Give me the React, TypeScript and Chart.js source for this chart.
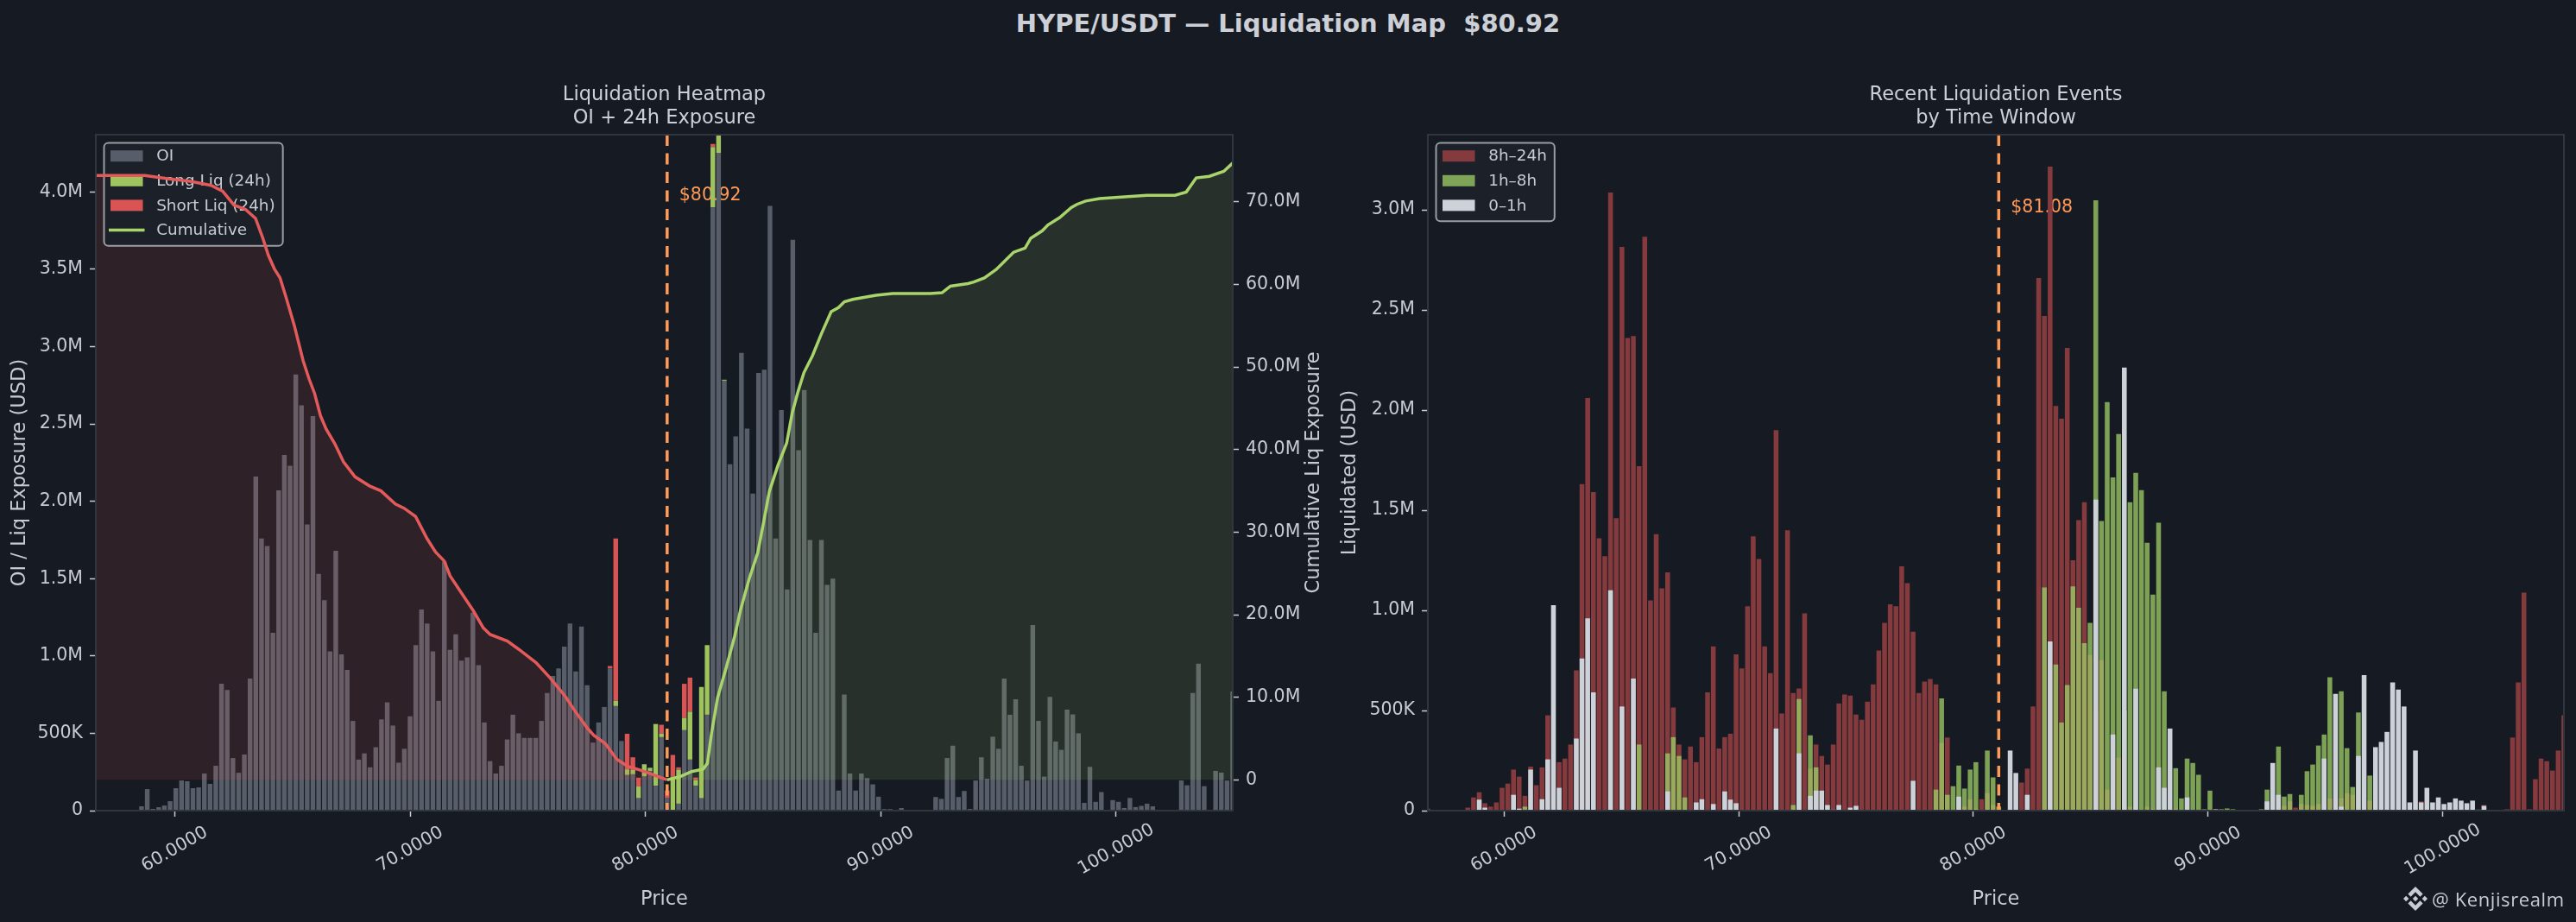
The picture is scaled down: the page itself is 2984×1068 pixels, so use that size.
import { useEffect, useRef } from "react";
import { Chart, registerables } from "chart.js";

Chart.register(...registerables);

const FONT = '"DejaVu Sans", "Liberation Sans", sans-serif';
const BG = "#161a22";
const TEXT = "#c8ccd2";
const TITLE = "#ccd0d6";
const SPINE = "#30353e";
const PRICE = "#ff9a57";

// ---------- Liquidation Heatmap (left panel) ----------
const heatPrice = 80.92;
const heatBinLow = 56.644;
const heatBinStep = 0.24276;
const heatXMax = 104.953;

// open interest per price bin, USD millions (200 bins)
const oiM = [
  0, 0, 0, 0, 0, 0, 0, 0, 0.028, 0.139,
  0.011, 0.022, 0.033, 0.061, 0.145, 0.195, 0.19, 0.145, 0.15, 0.24,
  0.173, 0.29, 0.82, 0.78, 0.34, 0.245, 0.363, 0.854, 2.16, 1.76,
  1.71, 1.15, 2.07, 2.3, 2.23, 2.82, 2.62, 1.85, 2.55, 1.53,
  1.36, 1.03, 1.68, 1.01, 0.91, 0.58, 0.33, 0.37, 0.28, 0.41,
  0.59, 0.7, 0.55, 0.31, 0.4, 0.61, 1.07, 1.3, 1.21, 1.03,
  0.71, 1.61, 1.04, 1.14, 0.97, 0.99, 1.28, 0.94, 0.57, 0.32,
  0.24, 0.29, 0.46, 0.62, 0.5, 0.47, 0.47, 0.47, 0.58, 0.76,
  0.87, 0.92, 1.06, 1.21, 0.9, 1.19, 0.81, 0.44, 0.57, 0.67,
  0.92, 0.676, 0.45, 0.23, 0.235, 0.08, 0.22, 0.257, 0.16, 0.475,
  0.08, 0, 0.045, 0.52, 0.33, 0.16, 0.08, 0.62, 3.9, 4.25,
  2.78, 2.24, 2.42, 2.96, 2.47, 2.05, 2.83, 2.85, 3.91, 1.76,
  2.59, 1.43, 3.69, 2.33, 2.72, 1.75, 1.15, 1.75, 1.46, 1.5,
  0.13, 0.75, 0.24, 0.13, 0.24, 0.21, 0.17, 0.09, 0.01, 0.01,
  0.005, 0.017, 0.005, 0, 0, 0, 0, 0.088, 0.076, 0.34,
  0.42, 0.088, 0.127, 0.011, 0.195, 0.345, 0.206, 0.478, 0.4, 0.854,
  0.62, 0.72, 0.29, 0.195, 1.2, 0.58, 0.22, 0.735, 0.447, 0.393,
  0.653, 0.622, 0.5, 0.05, 0.283, 0.057, 0.12, 0, 0.068, 0.057,
  0.017, 0.082, 0.023, 0.031, 0.045, 0.028, 0, 0, 0, 0,
  0.195, 0.164, 0.76, 0.95, 0.158, 0, 0.257, 0.246, 0.195, 0.77,
];

// 24h liquidations, only the bins that have any (bin index, USD millions)
const longLiqBins = [91, 93, 94, 95, 96, 97, 98, 99, 101, 102, 103, 104, 105, 106, 107, 108, 109, 110];
const longLiqM = [0.034, 0.037, 0.03, 0.076, 0.08, 0.02, 0.4, 0.023, 0.22, 0.22, 0.08, 0.31, 0.037, 0.72, 0.45, 0.39, 0.25, 0.006];
const shortLiqBins = [90, 91, 93, 94, 95, 99, 100, 101, 102, 103, 104, 105, 108];
const shortLiqM = [0.015, 1.05, 0.23, 0.08, 0.057, 0.057, 0.05, 0.14, 0.015, 0.22, 0.22, 0.017, 0.02];

// cumulative exposure, USD millions
const shortCumPrice = [
  56.64, 58.72, 59.7, 60.66, 61.54, 62.03, 62.52, 63.0, 63.43, 63.74,
  63.98, 64.23, 64.47, 64.72, 65.08, 65.45, 65.7, 65.94, 66.19, 66.43,
  66.8, 67.17, 67.66, 68.27, 68.76, 69.37, 69.74, 70.23, 70.72, 71.08,
  71.45, 71.7, 72.19, 72.68, 73.11, 73.4, 74.13, 74.62, 75.35, 75.96,
  76.57, 77.06, 77.55, 77.8, 78.29, 78.78, 79.27, 79.76, 80.25, 80.92,
];
const shortCumM = [
  73.2, 73.2, 72.8, 72.5, 72.0, 71.3, 69.6, 69.1, 68.0, 65.6,
  63.5, 61.9, 60.8, 58.5, 55.0, 50.8, 48.6, 46.8, 44.1, 42.5,
  40.7, 38.5, 36.7, 35.6, 35.0, 33.4, 32.9, 31.9, 29.2, 27.6,
  26.5, 24.7, 22.6, 20.5, 18.4, 17.6, 16.8, 15.8, 14.2, 12.3,
  10.2, 8.1, 6.2, 5.4, 4.4, 2.5, 1.6, 1.2, 0.7, 0,
];
const longCumPrice = [
  80.92, 81.47, 81.96, 82.45, 82.63, 82.81, 83.06, 83.43, 83.79, 84.04,
  84.4, 84.77, 85.02, 85.26, 85.63, 86.0, 86.24, 86.49, 86.73, 87.1,
  87.47, 87.89, 88.2, 88.45, 88.81, 89.43, 89.8, 90.5, 92.1, 92.6,
  92.96, 93.7, 93.95, 94.4, 94.9, 95.15, 95.64, 96.13, 96.37, 96.86,
  97.1, 97.6, 98.09, 98.33, 98.7, 99.3, 101.3, 102.5, 102.98, 103.4,
  103.96, 104.57, 104.95,
];
const longCumM = [
  0, 0.4, 1.0, 1.3, 2.0, 5.7, 9.9, 13.6, 17.4, 20.6,
  24.3, 27.5, 31.2, 34.9, 38.1, 40.8, 44.5, 47.1, 49.3, 51.4,
  54.0, 56.7, 57.2, 57.9, 58.2, 58.5, 58.7, 58.9, 58.9, 59.0,
  59.8, 60.1, 60.3, 60.8, 61.8, 62.5, 63.9, 64.4, 65.6, 66.5,
  67.2, 68.1, 69.3, 69.7, 70.1, 70.4, 70.8, 70.8, 71.2, 72.9,
  73.1, 73.7, 74.7,
];

const heatYTicks = [0, 0.5e6, 1e6, 1.5e6, 2e6, 2.5e6, 3e6, 3.5e6, 4e6];
const heatY1Ticks = [0, 10e6, 20e6, 30e6, 40e6, 50e6, 60e6, 70e6];
const priceTicks = [60, 70, 80, 90, 100];

// ---------- Recent Liquidation Events (right panel) ----------
const eventPrice = 81.08;
const eventBinLow = 56.756;
const eventBinStep = 0.24324;
const eventXMax = 105.161;

// liquidated per price bin by time window, USD millions (200 bins)
const liq8to24M = [
  0.01, 0, 0, 0, 0, 0, 0, 0.015, 0.066, 0.092,
  0.037, 0.02, 0.041, 0.114, 0.135, 0.205, 0.17, 0.074, 0.22, 0.127,
  0.216, 0.476, 0, 0.242, 0.26, 0.33, 0.7, 1.63, 2.06, 1.59,
  1.36, 1.27, 3.086, 1.46, 2.815, 2.36, 2.37, 1.72, 2.865, 1.05,
  1.38, 1.11, 1.19, 0.515, 0.33, 0.256, 0.32, 0.242, 0.367, 0.59,
  0.82, 0.31, 0.367, 0.384, 0.78, 0.71, 1.02, 1.37, 1.256, 0.82,
  0.686, 1.9, 0.485, 1.4, 0.587, 0.61, 0.985, 0.21, 0.33, 0.273,
  0.23, 0.33, 0.535, 0.58, 0.574, 0.48, 0.454, 0.544, 0.63, 0.8,
  0.937, 1.03, 1.02, 1.22, 1.136, 0.893, 0.587, 0.644, 0.657, 0.63,
  0.338, 0.365, 0, 0, 0.02, 0.057, 0.01, 0.057, 0.087, 0.028,
  0.02, 0, 0, 0, 0.14, 0.21, 0.52, 2.66, 2.47, 3.215,
  2.02, 1.957, 2.31, 1.25, 1.45, 1.54, 0.777, 0.5, 0.751, 0.105,
  0, 0.264, 0, 0.02, 0, 0, 0.02, 0.01, 0, 0,
  0, 0.01, 0, 0, 0, 0, 0, 0, 0, 0,
  0, 0, 0, 0, 0, 0, 0, 0, 0, 0,
  0.024, 0.046, 0.015, 0.033, 0.028, 0.024, 0.033, 0, 0.061, 0,
  0.061, 0.087, 0.079, 0, 0, 0.05, 0, 0, 0, 0,
  0, 0, 0, 0, 0.046, 0, 0, 0, 0, 0,
  0, 0, 0, 0, 0, 0.028, 0, 0, 0, 0.007,
  0.365, 0.64, 1.088, 0.007, 0.157, 0.26, 0.247, 0.2, 0.3, 0.476,
];
const liq1to8M = [
  0, 0, 0, 0, 0, 0, 0, 0, 0, 0,
  0, 0, 0, 0, 0, 0, 0, 0.02, 0, 0,
  0, 0, 0, 0, 0, 0, 0, 0, 0, 0,
  0, 0, 0, 0, 0, 0, 0, 0.33, 0, 0,
  0, 0, 0.286, 0.367, 0.273, 0.066, 0, 0, 0, 0,
  0, 0, 0, 0, 0, 0, 0, 0, 0, 0,
  0, 0, 0, 0, 0.028, 0.557, 0, 0.376, 0.216, 0,
  0, 0, 0, 0, 0, 0, 0, 0, 0, 0,
  0, 0, 0, 0, 0, 0, 0, 0, 0, 0.105,
  0.56, 0.079, 0.122, 0.225, 0.11, 0.205, 0.242, 0, 0.3, 0.166,
  0.02, 0, 0, 0, 0, 0, 0, 0, 1.114, 0,
  0.73, 0.44, 0.627, 1.12, 1.013, 0.836, 0.937, 3.047, 1.446, 2.04,
  1.664, 1.88, 0.5, 1.54, 1.686, 1.6, 1.337, 1.079, 1.437, 0.596,
  0, 0.212, 0.061, 0.26, 0.238, 0.179, 0.007, 0.1, 0, 0.007,
  0.011, 0.007, 0.003, 0, 0, 0, 0.007, 0.105, 0, 0.32,
  0.07, 0.083, 0, 0.079, 0.197, 0.23, 0.325, 0.38, 0.666, 0,
  0.596, 0.312, 0.118, 0.49, 0, 0.175, 0, 0, 0, 0,
  0, 0, 0, 0, 0, 0, 0, 0, 0, 0,
  0, 0, 0, 0, 0, 0, 0, 0, 0, 0,
  0, 0, 0, 0, 0, 0, 0, 0, 0, 0,
];
const liq0to1M = [
  0, 0, 0, 0, 0, 0, 0, 0, 0, 0.055,
  0.015, 0, 0, 0, 0, 0.079, 0.01, 0, 0.205, 0,
  0.057, 0.256, 1.026, 0.114, 0, 0, 0.36, 0.76, 0.96, 0.59,
  0, 0, 1.1, 0, 0.52, 0, 0.66, 0, 0, 0,
  0, 0, 0.096, 0, 0, 0, 0, 0.041, 0.057, 0,
  0.033, 0, 0.096, 0.055, 0.037, 0, 0, 0, 0, 0,
  0, 0.41, 0, 0, 0, 0.286, 0, 0.074, 0.1, 0.1,
  0.028, 0.005, 0.028, 0, 0.015, 0.024, 0, 0, 0, 0,
  0, 0, 0, 0, 0, 0.149, 0, 0, 0, 0,
  0, 0, 0, 0.07, 0, 0, 0, 0, 0, 0,
  0, 0, 0.3, 0.188, 0, 0.079, 0, 0, 0, 0.845,
  0, 0, 0, 0, 0, 0, 0, 1.553, 0, 0,
  0.38, 0, 2.212, 0, 0.609, 0, 0, 0, 0.216, 0.114,
  0.41, 0, 0, 0.066, 0, 0, 0, 0, 0.007, 0,
  0, 0, 0, 0, 0, 0, 0, 0.046, 0.238, 0.079,
  0, 0, 0, 0, 0, 0, 0, 0.26, 0, 0.583,
  0.02, 0, 0, 0.273, 0.677, 0, 0.317, 0.343, 0.393, 0.64,
  0.605, 0.52, 0.041, 0.3, 0.041, 0.114, 0.041, 0.066, 0.033, 0.041,
  0.061, 0.05, 0.037, 0.05, 0.005, 0.024, 0, 0, 0, 0,
  0, 0, 0, 0, 0, 0, 0, 0, 0, 0,
];
const eventYTicks = [0, 0.5e6, 1e6, 1.5e6, 2e6, 2.5e6, 3e6];

// ---------- colours ----------
const OI_COLOR = "#585e69";
const LONG_COLOR = "#9fc35e";
const SHORT_COLOR = "#d95555";
const LONG_LINE = "#a8d46b";
const SHORT_LINE = "#e45a5a";
const W24_COLOR = "#853a3e";
const W8_COLOR = "rgba(160,208,104,0.75)";
const W1_COLOR = "#cdd2d9";

const SHORT_CUM_LABEL = "Short cumulative";

const fmtUsd = (v: number) => {
  if (v === 0) return "0";
  if (Math.abs(v) >= 1e6) return `${(v / 1e6).toFixed(1)}M`;
  return `${Math.round(v / 1e3)}K`;
};

const binPoints = (values: number[], low: number, step: number) =>
  values.map((v, i) => ({ x: low + i * step, y: v * 1e6 }));
const sparsePoints = (bins: number[], values: number[], low: number, step: number) =>
  bins.map((b, i) => ({ x: low + b * step, y: values[i] * 1e6 }));
const pairPoints = (xs: number[], ys: number[]) => xs.map((x, i) => ({ x, y: ys[i] * 1e6 }));

// ---------- drawing helpers ----------
function roundRect(ctx: CanvasRenderingContext2D, x: number, y: number, w: number, h: number, r: number) {
  ctx.beginPath();
  ctx.moveTo(x + r, y);
  ctx.lineTo(x + w - r, y);
  ctx.arcTo(x + w, y, x + w, y + r, r);
  ctx.lineTo(x + w, y + h - r);
  ctx.arcTo(x + w, y + h, x + w - r, y + h, r);
  ctx.lineTo(x + r, y + h);
  ctx.arcTo(x, y + h, x, y + h - r, r);
  ctx.lineTo(x, y + r);
  ctx.arcTo(x, y, x + r, y, r);
  ctx.closePath();
}

type LegendEntry = { label: string; color: string; line?: boolean };

function drawLegend(chart: any, entries: LegendEntry[]) {
  const { ctx, chartArea } = chart;
  ctx.save();
  ctx.font = `18.4px ${FONT}`;
  const textW = Math.max(...entries.map((e) => ctx.measureText(e.label).width));
  const x = chartArea.left + 9.5;
  const y = chartArea.top + 9.5;
  const w = 7.5 + 37.5 + 15.7 + textW + 9;
  const h = entries.length * 28.6 + 4.9;
  roundRect(ctx, x, y, w, h, 5);
  ctx.fillStyle = "#1c2129";
  ctx.fill();
  ctx.lineWidth = 2;
  ctx.strokeStyle = "rgba(196,200,206,0.75)";
  ctx.stroke();
  entries.forEach((e, i) => {
    const cy = y + 15.2 + i * 28.6;
    const sx = x + 7.5;
    if (e.line) {
      ctx.strokeStyle = e.color;
      ctx.lineWidth = 3.5;
      ctx.beginPath();
      ctx.moveTo(sx - 2, cy);
      ctx.lineTo(sx + 39.5, cy);
      ctx.stroke();
    } else {
      ctx.fillStyle = e.color;
      ctx.fillRect(sx, cy - 6.5, 37.5, 13);
    }
    ctx.fillStyle = TEXT;
    ctx.textAlign = "left";
    ctx.textBaseline = "middle";
    ctx.fillText(e.label, sx + 37.5 + 15.7, cy + 1);
  });
  ctx.restore();
}

function drawFrame(chart: any) {
  const { ctx, chartArea: a } = chart;
  ctx.save();
  ctx.strokeStyle = SPINE;
  ctx.lineWidth = 2;
  ctx.strokeRect(a.left, a.top, a.right - a.left, a.bottom - a.top);
  ctx.restore();
}

function drawPriceLine(chart: any, price: number) {
  const { ctx, chartArea: a, scales } = chart;
  const px = scales.x.getPixelForValue(price);
  ctx.save();
  ctx.strokeStyle = PRICE;
  ctx.lineWidth = 3.5;
  ctx.setLineDash([13, 8.5]);
  ctx.beginPath();
  ctx.moveTo(px, a.top);
  ctx.lineTo(px, a.bottom);
  ctx.stroke();
  ctx.restore();
}

function drawPriceLabel(chart: any, price: number, dy: number) {
  const { ctx, chartArea: a, scales } = chart;
  const px = scales.x.getPixelForValue(price);
  ctx.save();
  ctx.fillStyle = PRICE;
  ctx.font = `20.5px ${FONT}`;
  ctx.textAlign = "left";
  ctx.textBaseline = "alphabetic";
  ctx.fillText(`$${price.toFixed(2)}`, px + 14, a.top + dy);
  ctx.restore();
}

function drawXTickLabels(chart: any, values: number[]) {
  const { ctx, chartArea: a, scales } = chart;
  ctx.save();
  ctx.fillStyle = TEXT;
  ctx.font = `20.5px ${FONT}`;
  ctx.textAlign = "center";
  ctx.textBaseline = "middle";
  for (const v of values) {
    ctx.save();
    ctx.translate(scales.x.getPixelForValue(v), a.bottom + 45);
    ctx.rotate(-Math.PI / 6);
    ctx.fillText(v.toFixed(4), 0, 0);
    ctx.restore();
  }
  ctx.restore();
}

function drawTitles(chart: any, lines: string[], yTitles: { text: string; x: number }[]) {
  const { ctx, chartArea: a } = chart;
  const cx = (a.left + a.right) / 2;
  const cy = (a.top + a.bottom) / 2;
  ctx.save();
  ctx.fillStyle = TITLE;
  ctx.font = `22.5px ${FONT}`;
  ctx.textAlign = "center";
  ctx.textBaseline = "alphabetic";
  ctx.fillText(lines[0], cx, a.top - 39.6);
  ctx.fillText(lines[1], cx, a.top - 13.1);
  ctx.fillStyle = TEXT;
  ctx.fillText("Price", cx, a.bottom + 109);
  for (const t of yTitles) {
    ctx.save();
    ctx.translate(t.x, cy);
    ctx.rotate(-Math.PI / 2);
    ctx.textBaseline = "middle";
    ctx.fillText(t.text, 0, 0);
    ctx.restore();
  }
  ctx.restore();
}

const tickMarks = {
  offset: false,
  drawOnChartArea: false,
  drawTicks: true,
  tickLength: 7,
  tickColor: TEXT,
  tickWidth: 1.5,
};

const yTickStyle = {
  color: TEXT,
  font: { family: FONT, size: 20.5 },
  padding: 8,
  autoSkip: false,
  callback: (v: any) => fmtUsd(Number(v)),
};

// ---------- panels ----------
function HeatmapPanel() {
  const canvasRef = useRef<HTMLCanvasElement | null>(null);

  useEffect(() => {
    const el = canvasRef.current;
    if (!el) return;

    const legend: LegendEntry[] = [
      { label: "OI", color: OI_COLOR },
      { label: "Long Liq (24h)", color: LONG_COLOR },
      { label: "Short Liq (24h)", color: SHORT_COLOR },
      { label: "Cumulative", color: LONG_LINE, line: true },
    ];

    const decor = {
      id: "heatDecor",
      beforeDatasetsDraw(chart: any) {
        drawPriceLabel(chart, heatPrice, 76);
      },
      beforeDatasetDraw(chart: any, args: any) {
        if (chart.data.datasets[args.index].label === SHORT_CUM_LABEL) drawLegend(chart, legend);
      },
      afterDatasetsDraw(chart: any) {
        drawPriceLine(chart, heatPrice);
        drawFrame(chart);
      },
      afterDraw(chart: any) {
        drawXTickLabels(chart, priceTicks);
        drawTitles(chart, ["Liquidation Heatmap", "OI + 24h Exposure"], [
          { text: "OI / Liq Exposure (USD)", x: 23 },
          { text: "Cumulative Liq Exposure", x: 1522 },
        ]);
      },
    };

    const chart = new Chart(el, {
      type: "bar",
      data: {
        datasets: [
          {
            type: "line",
            label: "Cumulative",
            data: pairPoints(longCumPrice, longCumM),
            yAxisID: "y1",
            borderColor: LONG_LINE,
            backgroundColor: "rgba(168,212,107,0.12)",
            borderWidth: 3.5,
            pointRadius: 0,
            tension: 0,
            fill: "origin",
            order: -1,
          },
          {
            type: "line",
            label: SHORT_CUM_LABEL,
            data: pairPoints(shortCumPrice, shortCumM),
            yAxisID: "y1",
            borderColor: SHORT_LINE,
            backgroundColor: "rgba(228,90,90,0.12)",
            borderWidth: 3.5,
            pointRadius: 0,
            tension: 0,
            fill: "origin",
            order: -1,
          },
          {
            label: "OI",
            data: binPoints(oiM, heatBinLow, heatBinStep),
            yAxisID: "y",
            backgroundColor: OI_COLOR,
            barPercentage: 0.82,
            categoryPercentage: 1,
            order: 0,
          },
          {
            label: "Long Liq (24h)",
            data: sparsePoints(longLiqBins, longLiqM, heatBinLow, heatBinStep),
            yAxisID: "y",
            backgroundColor: LONG_COLOR,
            barPercentage: 0.82,
            categoryPercentage: 1,
            order: 0,
          },
          {
            label: "Short Liq (24h)",
            data: sparsePoints(shortLiqBins, shortLiqM, heatBinLow, heatBinStep),
            yAxisID: "y",
            backgroundColor: SHORT_COLOR,
            barPercentage: 0.82,
            categoryPercentage: 1,
            order: 0,
          },
        ] as any,
      },
      options: {
        responsive: false,
        animation: false,
        layout: { padding: { top: 156, left: 0, right: 0, bottom: 0 } },
        plugins: { legend: { display: false }, tooltip: { enabled: false }, title: { display: false } },
        scales: {
          x: {
            type: "linear",
            min: heatBinLow,
            max: heatXMax,
            offset: false,
            stacked: true,
            bounds: "data",
            afterBuildTicks: (axis: any) => {
              axis.ticks = priceTicks.map((value) => ({ value }));
            },
            afterFit: (axis: any) => {
              axis.height = 129;
            },
            ticks: { display: false },
            grid: tickMarks,
            border: { display: false },
          },
          y: {
            type: "linear",
            position: "left",
            min: 0,
            max: 4.37e6,
            stacked: true,
            bounds: "data",
            afterBuildTicks: (axis: any) => {
              axis.ticks = heatYTicks.map((value) => ({ value }));
            },
            afterFit: (axis: any) => {
              axis.width = 111;
            },
            ticks: yTickStyle,
            grid: tickMarks,
            border: { display: false },
          },
          y1: {
            type: "linear",
            position: "right",
            min: -3.73e6,
            max: 78.14e6,
            bounds: "data",
            afterBuildTicks: (axis: any) => {
              axis.ticks = heatY1Ticks.map((value) => ({ value }));
            },
            afterFit: (axis: any) => {
              axis.width = 117;
            },
            ticks: yTickStyle,
            grid: tickMarks,
            border: { display: false },
          },
        } as any,
      },
      plugins: [decor],
    });

    return () => {
      chart.destroy();
    };
  }, []);

  return (
    <canvas
      ref={canvasRef}
      width={1545}
      height={1068}
      style={{ position: "absolute", left: 0, top: 0, width: 1545, height: 1068 }}
    />
  );
}

function EventsPanel() {
  const canvasRef = useRef<HTMLCanvasElement | null>(null);

  useEffect(() => {
    const el = canvasRef.current;
    if (!el) return;

    const legend: LegendEntry[] = [
      { label: "8h–24h", color: W24_COLOR },
      { label: "1h–8h", color: W8_COLOR },
      { label: "0–1h", color: W1_COLOR },
    ];

    const decor = {
      id: "eventDecor",
      beforeDatasetsDraw(chart: any) {
        drawPriceLabel(chart, eventPrice, 90);
      },
      afterDatasetsDraw(chart: any) {
        drawPriceLine(chart, eventPrice);
        drawFrame(chart);
        drawLegend(chart, legend);
      },
      afterDraw(chart: any) {
        drawXTickLabels(chart, priceTicks);
        drawTitles(chart, ["Recent Liquidation Events", "by Time Window"], [
          { text: "Liquidated (USD)", x: 19 },
        ]);
      },
    };

    const bar = (label: string, values: number[], color: string) => ({
      label,
      data: binPoints(values, eventBinLow, eventBinStep),
      backgroundColor: color,
      grouped: false,
      barPercentage: 0.84,
      categoryPercentage: 1,
    });

    const chart = new Chart(el, {
      type: "bar",
      data: {
        // first dataset is painted last, so the newest window sits on top
        datasets: [
          bar("0–1h", liq0to1M, W1_COLOR),
          bar("1h–8h", liq1to8M, W8_COLOR),
          bar("8h–24h", liq8to24M, W24_COLOR),
        ] as any,
      },
      options: {
        responsive: false,
        animation: false,
        layout: { padding: { top: 156, left: 0, right: 14, bottom: 0 } },
        plugins: { legend: { display: false }, tooltip: { enabled: false }, title: { display: false } },
        scales: {
          x: {
            type: "linear",
            min: eventBinLow,
            max: eventXMax,
            offset: false,
            bounds: "data",
            afterBuildTicks: (axis: any) => {
              axis.ticks = priceTicks.map((value) => ({ value }));
            },
            afterFit: (axis: any) => {
              axis.height = 129;
            },
            ticks: { display: false },
            grid: tickMarks,
            border: { display: false },
          },
          y: {
            type: "linear",
            position: "left",
            min: 0,
            max: 3.375e6,
            bounds: "data",
            afterBuildTicks: (axis: any) => {
              axis.ticks = eventYTicks.map((value) => ({ value }));
            },
            afterFit: (axis: any) => {
              axis.width = 109;
            },
            ticks: yTickStyle,
            grid: tickMarks,
            border: { display: false },
          },
        } as any,
      },
      plugins: [decor],
    });

    return () => {
      chart.destroy();
    };
  }, []);

  return (
    <canvas
      ref={canvasRef}
      width={1439}
      height={1068}
      style={{ position: "absolute", left: 1545, top: 0, width: 1439, height: 1068 }}
    />
  );
}

function Watermark() {
  return (
    <div
      style={{
        position: "absolute",
        left: 2784,
        top: 1024,
        height: 34,
        display: "flex",
        alignItems: "center",
        gap: 5,
        color: TEXT,
      }}
    >
      <svg width="28" height="28" viewBox="0 0 126.61 126.61" fill={TEXT}>
        <path d="m38.73 53.2 24.59-24.58 24.6 24.6 14.3-14.31-38.9-38.91-38.9 38.9z" />
        <path d="m0 63.31 14.3-14.31 14.31 14.31-14.31 14.3z" />
        <path d="m38.73 73.41 24.59 24.59 24.6-24.6 14.31 14.29-38.9 38.91-38.91-38.88z" />
        <path d="m98 63.31 14.3-14.31 14.31 14.3-14.31 14.32z" />
        <path d="m77.83 63.3-14.51-14.52-10.73 10.73-1.24 1.23-2.54 2.54 14.51 14.5 14.51-14.47z" />
      </svg>
      <span style={{ font: '22px "Open Sans", "Noto Sans", sans-serif', letterSpacing: 0.6, whiteSpace: "pre" }}>
        @ Kenjisrealm
      </span>
    </div>
  );
}

export default function App() {
  return (
    <div
      style={{
        position: "fixed",
        left: 0,
        top: 0,
        width: 2984,
        height: 1068,
        background: BG,
        overflow: "hidden",
      }}
    >
      <div
        style={{
          position: "absolute",
          left: 0,
          top: 12.6,
          width: 2984,
          textAlign: "center",
          font: `bold 29px ${FONT}`,
          lineHeight: "29px",
          color: TITLE,
          whiteSpace: "pre",
        }}
      >
        HYPE/USDT — Liquidation Map  $80.92
      </div>
      <HeatmapPanel />
      <EventsPanel />
      <Watermark />
    </div>
  );
}
